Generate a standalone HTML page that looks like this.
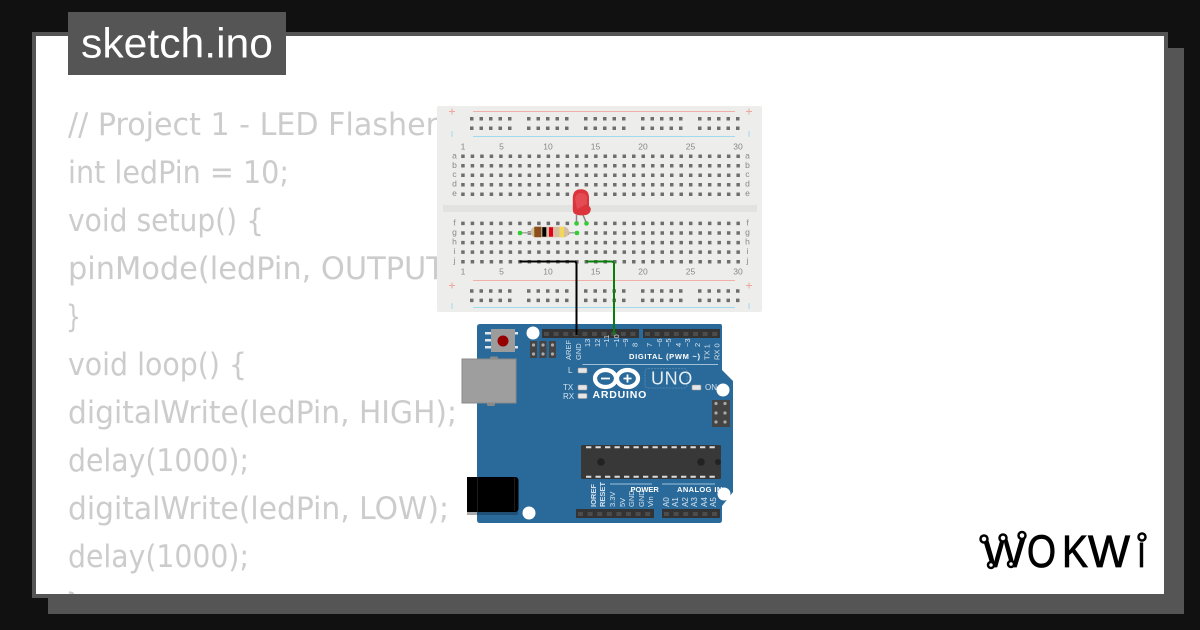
<!DOCTYPE html>
<html><head><meta charset="utf-8"><style>html,body{margin:0;padding:0;background:#111;width:1200px;height:630px;overflow:hidden}svg{display:block}</style></head><body>
<svg xmlns="http://www.w3.org/2000/svg" width="1200" height="630" viewBox="0 0 1200 630">
<defs><clipPath id="card"><rect x="36" y="36" width="1128" height="558"/></clipPath></defs>
<rect width="1200" height="630" fill="#111"/>
<rect x="48" y="48" width="1136" height="566" fill="#555"/>
<rect x="32" y="32" width="1136" height="566" fill="#555"/>
<rect x="36" y="36" width="1128" height="558" fill="#fff"/>
<g clip-path="url(#card)" font-family="'DejaVu Sans',sans-serif" font-size="31" fill="#ccc">
<text x="68" y="135" textLength="370" lengthAdjust="spacingAndGlyphs">// Project 1 - LED Flasher</text>
<text x="68" y="183" textLength="221" lengthAdjust="spacingAndGlyphs">int ledPin = 10;</text>
<text x="68" y="231" textLength="196" lengthAdjust="spacingAndGlyphs">void setup() {</text>
<text x="68" y="279" textLength="399" lengthAdjust="spacingAndGlyphs">pinMode(ledPin, OUTPUT);</text>
<text x="66" y="327" textLength="15" lengthAdjust="spacingAndGlyphs">}</text>
<text x="68" y="375" textLength="179" lengthAdjust="spacingAndGlyphs">void loop() {</text>
<text x="68" y="423" textLength="389" lengthAdjust="spacingAndGlyphs">digitalWrite(ledPin, HIGH);</text>
<text x="68" y="471" textLength="181" lengthAdjust="spacingAndGlyphs">delay(1000);</text>
<text x="68" y="519" textLength="381" lengthAdjust="spacingAndGlyphs">digitalWrite(ledPin, LOW);</text>
<text x="68" y="567" textLength="181" lengthAdjust="spacingAndGlyphs">delay(1000);</text>
<text x="66" y="615" textLength="15" lengthAdjust="spacingAndGlyphs">}</text>
</g>
<rect x="68" y="12" width="218" height="63" fill="#555"/>
<text x="81" y="57.500" font-family="'Liberation Sans',sans-serif" font-size="42" fill="#fff" textLength="192" lengthAdjust="spacingAndGlyphs">sketch.ino</text>

<!-- breadboard -->
<rect x="437" y="106" width="325" height="206" rx="2" fill="#ededec"/>
<rect x="443" y="205" width="314" height="7" fill="#e2e2e1"/>
<g stroke="#f0b0a8" stroke-width="1"><path d="M473 111.500H735M473 280.500H735"/></g>
<g stroke="#9fdaee" stroke-width="1"><path d="M473 136.500H735M473 307.500H735"/></g>
<g stroke="#efa89f" stroke-width="1" fill="none"><path d="M449 111.500h6M452 108.500v6M746 111.500h6M749 108.500v6M449 285.500h6M452 282.500v6M746 285.500h6M749 282.500v6"/></g>
<g stroke="#9fdaee" stroke-width="1" fill="none"><path d="M452 131v6M749 131v6M452 303v6M749 303v6"/></g>
<g stroke="#6e6e6e" stroke-width="3.500" fill="none" stroke-dasharray="3.500 6 3.500 6 3.500 6 3.500 6 3.500 15.500">
<path d="M470 118.700H741M470 128.300H741M470 291H741M470 300.400H741"/></g>
<g stroke="#6e6e6e" stroke-width="3.500" fill="none" stroke-dasharray="3.500 5.990">
<path d="M461.200 156.300H741M461.200 165.800H741M461.200 175.200H741M461.200 184.700H741M461.200 194.300H741M461.200 223.400H741M461.200 233H741M461.200 242.600H741M461.200 252.100H741M461.200 261.700H741"/></g>
<g font-family="'Liberation Sans',sans-serif" font-size="8.500" fill="#888" text-anchor="middle">
<text x="463" y="149.500">1</text><text x="501.500" y="149.500">5</text><text x="548" y="149.500">10</text><text x="595.500" y="149.500">15</text><text x="643" y="149.500">20</text><text x="690.500" y="149.500">25</text><text x="738" y="149.500">30</text>
<text x="463" y="274.500">1</text><text x="501.500" y="274.500">5</text><text x="548" y="274.500">10</text><text x="595.500" y="274.500">15</text><text x="643" y="274.500">20</text><text x="690.500" y="274.500">25</text><text x="738" y="274.500">30</text>
<text x="454.500" y="158.500">a</text><text x="454.500" y="168">b</text><text x="454.500" y="177">c</text><text x="454.500" y="186.500">d</text><text x="454.500" y="196">e</text>
<text x="454.500" y="225.500">f</text><text x="454.500" y="235">g</text><text x="454.500" y="244.500">h</text><text x="454.500" y="254">i</text><text x="454.500" y="263.500">j</text>
<text x="747.500" y="158.500">a</text><text x="747.500" y="168">b</text><text x="747.500" y="177">c</text><text x="747.500" y="186.500">d</text><text x="747.500" y="196">e</text>
<text x="747.500" y="225.500">f</text><text x="747.500" y="235">g</text><text x="747.500" y="244.500">h</text><text x="747.500" y="254">i</text><text x="747.500" y="263.500">j</text>
</g>

<!-- arduino -->
<path d="M480 324H720Q722 324 722 326V370L733 381V492L722 506V520Q722 523 719 523H480Q477 523 477 520V327Q477 324 480 324Z" fill="#2a6a9b"/>
<g fill="#dfe6ec"><rect x="485" y="332" width="6" height="2.500"/><rect x="485" y="339" width="6" height="2.500"/><rect x="485" y="346" width="6" height="2.500"/><rect x="515" y="332" width="3" height="2.500"/><rect x="515" y="346" width="3" height="2.500"/></g>
<rect x="491" y="329" width="24" height="23" fill="#9c9c9c"/>
<circle cx="503" cy="341" r="5.500" fill="#960000"/>
<rect x="530" y="341" width="7" height="17" fill="#444"/><rect x="539.500" y="341" width="7" height="17" fill="#444"/><rect x="549" y="341" width="7" height="17" fill="#444"/>
<g fill="#aaa"><circle cx="533.500" cy="345" r="1.600"/><circle cx="533.500" cy="354" r="1.600"/><circle cx="543" cy="345" r="1.600"/><circle cx="543" cy="354" r="1.600"/><circle cx="552.500" cy="345" r="1.600"/><circle cx="552.500" cy="354" r="1.600"/></g>
<rect x="712" y="400" width="18" height="27" fill="#444"/>
<g fill="#aaa"><circle cx="716" cy="403.500" r="1.600"/><circle cx="725" cy="403.500" r="1.600"/><circle cx="716" cy="413" r="1.600"/><circle cx="725" cy="413" r="1.600"/><circle cx="716" cy="422" r="1.600"/><circle cx="725" cy="422" r="1.600"/></g>
<g fill="#333"><rect x="542" y="329" width="97" height="9"/><rect x="643" y="329" width="77" height="9"/><rect x="576" y="509" width="78" height="9"/><rect x="662" y="509" width="58" height="9"/></g>
<g stroke="#4c4c4c" stroke-width="4" fill="none" stroke-dasharray="5 4.600"><path d="M544 334H638M645 334H719M578 514H653M664 514H719"/></g>
<rect x="490" y="356.500" width="8" height="4" rx="1.500" fill="#8a8a8a"/><rect x="487" y="402" width="8" height="4" rx="1.500" fill="#8a8a8a"/>
<rect x="462" y="359" width="54" height="44" fill="#9e9e9e" stroke="#8a8a8a" stroke-width="1"/>
<rect x="467" y="511" width="10" height="4" fill="#aaa"/><rect x="477" y="511" width="41" height="4" rx="1" fill="#1f4f75"/>
<path d="M467 477H515Q518.500 477 518.500 481V508Q518.500 512 515 512H467Z" fill="#000"/>
<path d="M477.500 477V512M514.500 478V511" stroke="#222" stroke-width=".8"/>
<rect x="581" y="445" width="140" height="34" rx="1" fill="#383838"/>
<path d="M586 447.300H716M586 476.800H716" stroke="#ddd" stroke-width="2" stroke-dasharray="5.300 4.200" fill="none"/>
<circle cx="601" cy="462" r="3.800" fill="#222"/><circle cx="701" cy="462" r="3.800" fill="#222"/><circle cx="718" cy="462" r="3" fill="#222"/>
<path d="M582.500 364.500H718M610 484H652M662 484H715" stroke="#9fc0d8" stroke-width="1" fill="none"/>
<g font-family="'Liberation Sans',sans-serif" font-size="7.500" fill="#d5e2ec">
<text transform="translate(571,360) rotate(-90)">AREF</text><text transform="translate(581,360) rotate(-90)">GND</text><text transform="translate(590,347) rotate(-90)">13</text><text transform="translate(600,347) rotate(-90)">12</text><text transform="translate(609,347) rotate(-90)">~11</text><text transform="translate(619,347) rotate(-90)">~10</text><text transform="translate(628,347) rotate(-90)">~9</text><text transform="translate(637.500,347) rotate(-90)">8</text>
<text transform="translate(652,347) rotate(-90)">7</text><text transform="translate(662,347) rotate(-90)">~6</text><text transform="translate(671,347) rotate(-90)">~5</text><text transform="translate(681,347) rotate(-90)">4</text><text transform="translate(690,347) rotate(-90)">~3</text><text transform="translate(700,347) rotate(-90)">2</text><text transform="translate(709.500,360) rotate(-90)">TX 1</text><text transform="translate(719.500,360) rotate(-90)">RX 0</text>
<text transform="translate(596,507) rotate(-90)" font-weight="bold">IOREF</text><text transform="translate(605,507) rotate(-90)" font-weight="bold">RESET</text><text transform="translate(615,507) rotate(-90)">3.3V</text><text transform="translate(625,507) rotate(-90)">5V</text><text transform="translate(634,507) rotate(-90)">GND</text><text transform="translate(644,507) rotate(-90)">GND</text><text transform="translate(653,507) rotate(-90)">Vin</text>
<text transform="translate(669,507) rotate(-90)" font-size="8">A0</text><text transform="translate(678,507) rotate(-90)" font-size="8">A1</text><text transform="translate(688,507) rotate(-90)" font-size="8">A2</text><text transform="translate(697,507) rotate(-90)" font-size="8">A3</text><text transform="translate(707,507) rotate(-90)" font-size="8">A4</text><text transform="translate(716,507) rotate(-90)" font-size="8">A5</text>
<text x="629" y="359" font-weight="bold" letter-spacing=".7" fill="#fff">DIGITAL (PWM ~)</text>
<text x="630.500" y="492" font-weight="bold" fill="#fff">POWER</text>
<text x="677" y="492" font-weight="bold" letter-spacing=".4" fill="#fff">ANALOG IN</text>
<text x="568" y="373" font-size="8">L</text><text x="563" y="390" font-size="8">TX</text><text x="563" y="399" font-size="8">RX</text><text x="705" y="390" font-size="8">ON</text>
</g>
<circle cx="533" cy="333" r="6.500" fill="#fff"/><circle cx="723" cy="390" r="6.500" fill="#fff"/><circle cx="724" cy="494" r="6.500" fill="#fff"/><circle cx="529" cy="513" r="6.500" fill="#fff"/>
<g fill="#e6e6e6" stroke="#999" stroke-width=".6"><rect x="578" y="368" width="9" height="5" rx="1"/><rect x="578" y="385" width="9" height="5" rx="1"/><rect x="578" y="393.500" width="9" height="5" rx="1"/><rect x="692" y="385" width="9" height="5" rx="1"/></g>
<g fill="none" stroke="#fff" stroke-width="4.200"><ellipse cx="605.500" cy="378.500" rx="10.500" ry="8.500"/><ellipse cx="627.500" cy="378.500" rx="10.500" ry="8.500"/></g>
<path d="M601 378.500h9M623.500 378.500h8M627.500 374.500v8" stroke="#fff" stroke-width="1.800" fill="none"/>
<text x="592.500" y="398" font-family="'Liberation Sans',sans-serif" font-weight="bold" font-size="10.500" letter-spacing=".8" fill="#fff">ARDUINO</text>
<rect x="645" y="368.500" width="42" height="19.500" rx="3" fill="none" stroke="#5a8db5" stroke-width=".8" stroke-dasharray="2 1"/>
<text x="651" y="384.500" font-family="'Liberation Sans',sans-serif" font-size="18" letter-spacing=".6" fill="#e4edf3">UNO</text>

<!-- resistor -->
<path d="M520 232.800H577" stroke="#aaa" stroke-width="1.500"/>
<rect x="530.700" y="226.700" width="38.300" height="10.500" rx="5" fill="#d6bf9f"/>
<rect x="534.300" y="226.700" width="7" height="10.500" fill="#8a4f1c"/><rect x="542.300" y="227.200" width="4" height="9.500" fill="#000"/><rect x="549" y="227.200" width="4" height="9.500" fill="#e6001e"/><rect x="559.500" y="226.700" width="4.500" height="10.500" fill="#f2d75c"/>
<g fill="#2fd02f"><circle cx="520" cy="233" r="2.300"/><circle cx="577" cy="233" r="2.300"/><circle cx="576.500" cy="223.400" r="2.300"/><circle cx="586.500" cy="223.400" r="2.300"/></g>
<!-- led -->
<path d="M576.500 215V222M583 215L586 222" stroke="#888" stroke-width="1.500" fill="none"/>
<path d="M572.800 198Q572.800 189.300 581 189.300Q589 189.300 589 198V206Q591.500 208 590.500 211Q589.500 214 586 215Q578 216 575 214Q572.800 213 572.800 209Z" fill="#db343c"/>
<path d="M575 199Q576 193 581 193Q587 193 587 199V204L577 209Z" fill="#e8555c" opacity=".7"/>

<!-- wires -->
<path d="M519.500 261.500H574Q576.500 261.500 576.500 264V335" stroke="#000" stroke-width="2" fill="none"/>
<path d="M586 261.500H611.500Q614 261.500 614 264V335" stroke="#0a7d0a" stroke-width="2" fill="none"/>

<!-- logo -->
<g font-family="'Liberation Sans',sans-serif" font-size="45" fill="#000" stroke="#000" stroke-width=".8">
<text x="982" y="567" textLength="44" lengthAdjust="spacingAndGlyphs">W</text>
<text x="1027" y="567" textLength="29" lengthAdjust="spacingAndGlyphs">O</text>
<text x="1062" y="567" textLength="26" lengthAdjust="spacingAndGlyphs">K</text>
<text x="1088" y="567" textLength="42" lengthAdjust="spacingAndGlyphs">W</text>
<text x="1137" y="567" textLength="9" lengthAdjust="spacingAndGlyphs">ı</text>
</g>
<g fill="#fff" stroke="#000" stroke-width="2.500"><circle cx="984" cy="539" r="3.500"/><circle cx="1003" cy="538" r="3.500"/><circle cx="1022" cy="535.500" r="3.500"/><circle cx="991" cy="565" r="3"/><circle cx="1011" cy="564" r="3"/><circle cx="1142" cy="537" r="3.500"/></g>
</svg>
</body></html>
